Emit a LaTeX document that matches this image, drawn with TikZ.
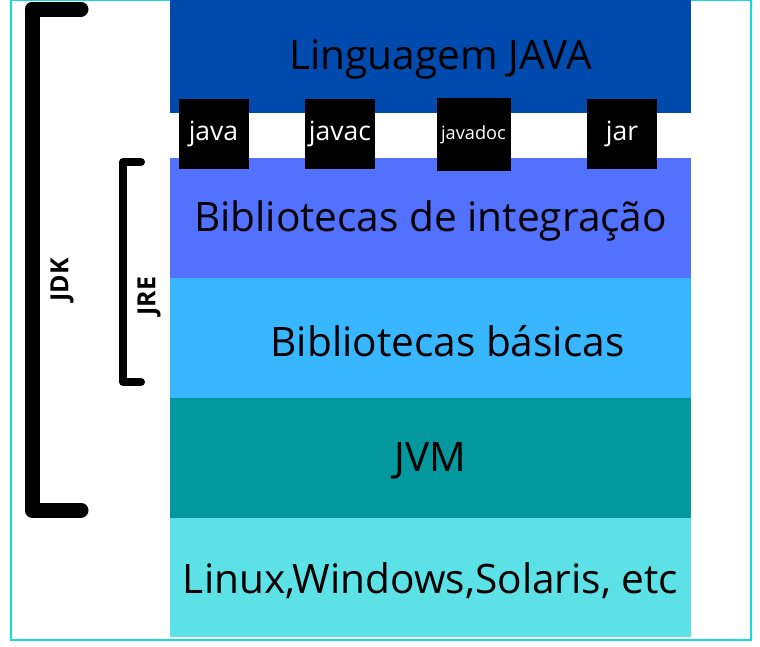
\documentclass[tikz,border=0pt]{standalone}
\usepackage{fontspec}
\setmainfont{Open Sans}
\definecolor{clang}{RGB}{0,74,173}
\definecolor{cinteg}{RGB}{82,113,255}
\definecolor{cbasic}{RGB}{56,182,255}
\definecolor{cjvm}{RGB}{3,152,158}
\definecolor{cos}{RGB}{92,225,230}
\definecolor{cframe}{RGB}{20,216,226}
\begin{document}
\begin{tikzpicture}[x=1pt,y=-1pt,
  layer/.style={draw=none, minimum width=521pt, minimum height=120pt, inner sep=0pt, outer sep=0pt},
  laytext/.style={font=\fontsize{40.6}{44}\selectfont, text=black, inner sep=0pt},
  tool/.style={fill=black, minimum width=70pt, minimum height=70pt, inner sep=0pt, text=white, font=\fontsize{26.5}{28}\selectfont},
  bracket/.style={line width=#1, line cap=round, line join=round},
  brlabel/.style={font=\bfseries\fontsize{25}{27}\selectfont, rotate=90}]
\useasboundingbox (0,0) rectangle (760,646);
\draw[cframe, line width=2pt] (11,0) rectangle (751,640);
% layers
\node[layer, fill=clang, minimum height=113pt] (lang) at (430.5,56.5) {};
\node[layer, fill=cinteg] (integ) at (430.5,218) {};
\node[layer, fill=cbasic] (basic) at (430.5,338) {};
\node[layer, fill=cjvm] (jvm) at (430.5,458) {};
\node[layer, fill=cos, minimum height=119pt] (os) at (430.5,577.5) {};
\node[laytext] (langt) at ([xshift=10pt,yshift=-3pt]lang.center) {Linguagem JAVA};
\node[laytext] (integt) at ([yshift=-3pt]integ.center) {Bibliotecas de integração};
\node[laytext] (basict) at ([xshift=17pt,yshift=-3pt]basic.center) {Bibliotecas básicas};
\node[laytext] (jvmt) at ([yshift=-3pt]jvm.center) {JVM};
\node[laytext] (ost) at ([yshift=-3pt]os.center) {Linux,Windows,Solaris, etc};
% tools
\node[tool] (java) at (213.5,134) {java};
\node[tool] (javac) at (340,134) {javac};
\node[tool, minimum width=74pt, minimum height=73pt, font=\fontsize{18.2}{20}\selectfont] (javadoc) at (473.5,134.5) {javadoc};
\node[tool] (jar) at (622,134) {jar};
% brackets
\coordinate (jdkt) at (81,9);
\coordinate (jdkb) at (81,510);
\draw[bracket=15pt] (jdkt) -- (32,9) -- (32,510) -- (jdkb);
\node[brlabel] (jdk) at (62,280) {JDK};
\coordinate (jret) at (141,162);
\coordinate (jreb) at (141,382);
\draw[bracket=8pt] (jret) -- (123,162) -- (123,382) -- (jreb);
\node[brlabel] (jre) at (149,296) {JRE};
\end{tikzpicture}
\end{document}
